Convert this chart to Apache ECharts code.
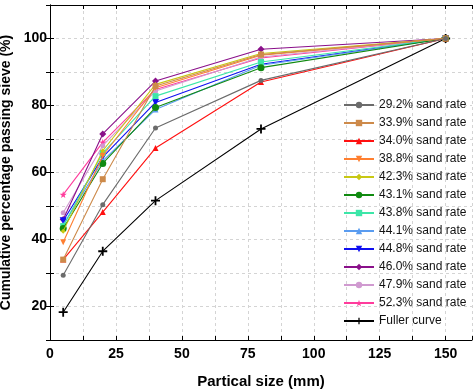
<!DOCTYPE html>
<html><head><meta charset="utf-8">
<script src="https://cdn.jsdelivr.net/npm/echarts@6/dist/echarts.min.js"></script>
<style>html,body{margin:0;padding:0;background:#fff}#c{width:474px;height:390px}</style>
</head><body><div id="c"></div>
<script>
const sizes = [5, 20, 40, 80, 150];
const names = ['29.2% sand rate','33.9% sand rate','34.0% sand rate','38.8% sand rate','42.3% sand rate','43.1% sand rate','43.8% sand rate','44.1% sand rate','44.8% sand rate','46.0% sand rate','47.9% sand rate','52.3% sand rate','Fuller curve'];
const s292 = [29.3, 50.4, 73.3, 87.5, 100];
const s339 = [34.0, 58.0, 85.8, 95.2, 100];
const s340 = [34.0, 48.2, 67.3, 87.0, 100];
const s388 = [39.2, 65.0, 85.3, 95.0, 100];
const s423 = [42.5, 66.5, 86.3, 95.5, 100];
const s431 = [43.3, 62.7, 79.4, 91.3, 100];
const s438 = [44.0, 65.8, 82.8, 93.0, 100];
const s441 = [44.3, 63.5, 78.8, 92.0, 100];
const s448 = [45.6, 64.6, 80.9, 92.3, 100];
const s460 = [46.0, 71.5, 87.3, 96.8, 100];
const s479 = [48.0, 68.0, 84.3, 94.5, 100];
const s523 = [53.4, 69.0, 84.8, 94.2, 100];
const fuller = [18.3, 36.5, 51.6, 73.0, 100];
const xTicks = [0, 25, 50, 75, 100, 125, 150];
const yTicks = [20, 40, 60, 80, 100];

const seriesData = [s292, s339, s340, s388, s423, s431, s438, s441, s448, s460, s479, s523, fuller];
const colors = ['#6b6b6b','#cd8a4a','#ff1010','#ff7f30','#c8c814','#108a10','#3ce6a8','#5a9cf0','#1010f0','#8a108a','#d09ad0','#ff3c9c','#000000'];
const star = 'path://M0,-10L2.4,-3.2L9.5,-3.1L3.8,1.2L5.9,8.1L0,4L-5.9,8.1L-3.8,1.2L-9.5,-3.1L-2.4,-3.2Z';
const plus = 'path://M-1.2,-6H1.2V-1.2H6V1.2H1.2V6H-1.2V1.2H-6V-1.2H-1.2Z';
const symbols = ['circle','rect','triangle','path://M-5,-4H5L0,5Z','diamond','circle','rect','triangle','path://M-5,-4H5L0,5Z','diamond','circle',star,plus];
const symSizes = [5,6,6,6,5,7,6,6,7,7,5,7,9];

const chart = echarts.init(document.getElementById('c'));
const axisFont = {fontFamily:'Liberation Sans, Arial', fontWeight:'bold', fontSize:14, color:'#000'};
chart.setOption({
  animation:false,
  color: colors,
  grid:{left:50, right:2, top:5, bottom:50, containLabel:false, outerBoundsMode:'none'},
  legend:{
    orient:'vertical', left:338, top:93, itemWidth:30, itemHeight:8, itemGap:4,
    data: names,
    textStyle:{fontFamily:'Liberation Sans, Arial', fontSize:12, color:'#111', lineHeight:14}
  },
  xAxis:[{
    type:'value', min:0, max:160, interval:12.5,
    name:'Partical size (mm)', nameLocation:'middle', nameGap:34,
    nameTextStyle:{fontFamily:'Liberation Sans, Arial', fontWeight:'bold', fontSize:15, color:'#000'},
    axisLine:{show:true, lineStyle:{color:'#000', width:1}},
    axisTick:{show:true, inside:true, length:4, lineStyle:{color:'#000'}},
    axisLabel:{...axisFont, margin:7, formatter:v => xTicks.includes(v) ? String(v) : ''},
    splitLine:{show:true, lineStyle:{color:'#d4d4d4', type:[3,3], width:1}}
  },{
    type:'value', position:'top', min:0, max:160, interval:12.5,
    axisLine:{show:true, lineStyle:{color:'#000'}},
    axisTick:{show:true, inside:true, length:4, lineStyle:{color:'#000'}},
    axisLabel:{show:false}, splitLine:{show:false}
  }],
  yAxis:[{
    type:'value', min:10, max:110, interval:10,
    name:'Cumulative percentage passing sieve (%)', nameLocation:'middle', nameGap:34,
    nameTextStyle:{fontFamily:'Liberation Sans, Arial', fontWeight:'bold', fontSize:14, color:'#000'},
    axisLine:{show:true, lineStyle:{color:'#000', width:1}},
    axisTick:{show:true, inside:true, length:4, lineStyle:{color:'#000'}},
    axisLabel:{...axisFont, margin:3, formatter:v => yTicks.includes(v) ? String(v) : ''},
    splitLine:{show:true, lineStyle:{color:'#d4d4d4', type:[3,3], width:1}}
  },{
    type:'value', position:'right', min:10, max:110, interval:10,
    axisLine:{show:true, lineStyle:{color:'#000'}},
    axisTick:{show:true, inside:true, length:4, lineStyle:{color:'#000'}},
    axisLabel:{show:false}, splitLine:{show:false}
  }],
  series: seriesData.map((arr, i) => ({
    name: names[i], type:'line',
    data: arr.map((v, j) => [sizes[j], v]),
    symbol: symbols[i], symbolSize: symSizes[i],
    lineStyle:{width:1.1, color: colors[i]},
    itemStyle:{color: colors[i]},
    z: 13 - i
  }))
});
</script></body></html>
